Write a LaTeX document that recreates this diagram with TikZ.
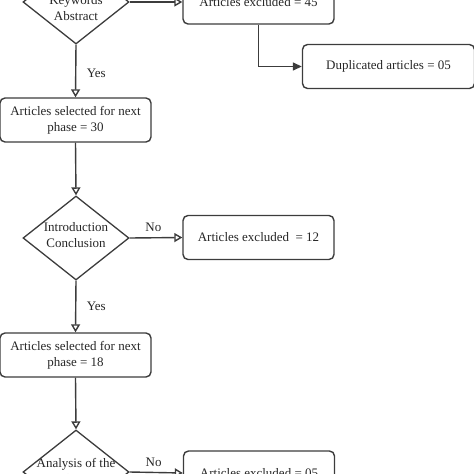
\documentclass[tikz,border=0pt]{standalone}
\usepackage{fontspec}
\setmainfont{Liberation Serif}
\usetikzlibrary{shapes.geometric,arrows.meta}
\definecolor{ln}{HTML}{3C3C3C}
\tikzset{
  box/.style={draw=ln,line width=1.4pt,rounded corners=5pt,minimum width=151pt,minimum height=44pt,align=center,font=\fontsize{13}{16}\selectfont,inner sep=2pt,text=black!85},
  dec/.style={draw=ln,line width=1.3pt,diamond,minimum width=106pt,minimum height=84pt,inner sep=0pt,align=center,font=\fontsize{13}{16}\selectfont,text=black!85},
  dtext/.style={align=center,font=\fontsize{13}{16}\selectfont,text=black!85,inner sep=0pt},
  flow/.style={draw=ln,line width=1.4pt,-{Triangle[open,length=8pt,width=9pt]}},
  flowf/.style={draw=ln,line width=1.4pt,-{Triangle[length=9pt,width=8pt]}},
  lbl/.style={font=\fontsize{13}{14}\selectfont,text=black!85}
}
\begin{document}
\begin{tikzpicture}[x=1pt,y=-1pt]
\useasboundingbox (0,0) rectangle (474,474);
\node[dec] (d1) at (76,2) {};
\node[dtext] (d1t) at (76,8) {Keywords\\Abstract};
\node[box] (e45) at (258.5,2) {Articles excluded = 45};
\node[box,minimum width=172pt] (dup) at (388.5,66.5) {Duplicated articles = 05};
\node[box] (s30) at (75.5,120) {Articles selected for next\\phase = 30};
\node[dec] (d2) at (76,238) {};
\node[dtext] (d2t) at (76,235) {Introduction\\Conclusion};
\node[box] (e12) at (258.5,237.5) {Articles excluded \ = 12};
\node[box] (s18) at (75.5,355) {Articles selected for next\\phase = 18};
\node[dec] (d3) at (76,472) {};
\node[dtext] (d3t) at (76,471) {Analysis of the\\articles' text};
\node[box] (e05) at (259,473) {Articles excluded = 05};

\draw[flow] (d1.east) -- (e45.west);
\draw[flow] (d1.south) -- node[lbl,right=7pt,pos=0.55] {Yes} (s30.north);
\draw[flowf] (e45.south) |- (dup.west);
\draw[flow] (s30.south) -- (d2.north);
\draw[flow] (d2.east) -- node[lbl,above=2pt,pos=0.45] {No} (e12.west);
\draw[flow] (d2.south) -- node[lbl,right=7pt,pos=0.5] {Yes} (s18.north);
\draw[flow] (s18.south) -- (d3.north);
\draw[flow] (d3.east) -- node[lbl,above=2pt,pos=0.45] {No} (e05.west);
\end{tikzpicture}
\end{document}
